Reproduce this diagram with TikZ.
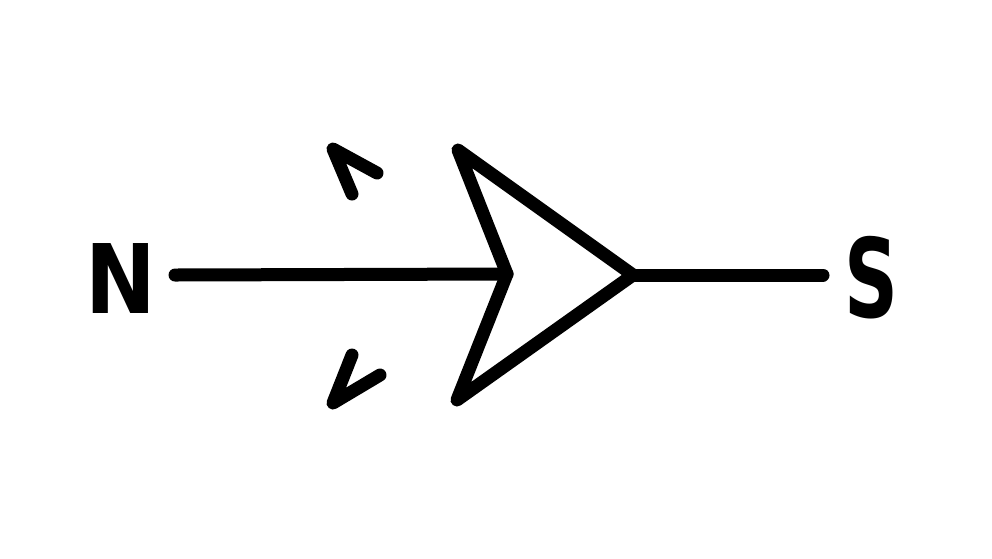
\documentclass[tikz,border=0pt]{standalone}
\usepackage{fontspec}
\newfontfamily\letterfont{DejaVu Sans}[BoldFont={DejaVu Sans Bold}]
\tikzset{
  ink/.style={line width=13pt, line cap=round, line join=round, black},
  letter/.style={inner sep=0pt, font=\letterfont\bfseries\fontsize{96}{96}\selectfont}
}
\begin{document}
\begin{tikzpicture}[x=1pt,y=-1pt]
\useasboundingbox[fill=white] (0,0) rectangle (992,558);
% letters
\node[letter] (N) at (121,278) {\scalebox{0.88}[1]{N}};
\node[letter] (S) at (871,278) {\scalebox{0.78}[1.14]{S}};
% arrow head
\coordinate (top) at (458,150);
\coordinate (notch) at (507,274);
\coordinate (tip) at (633,275);
\coordinate (bot) at (457,400);
\draw[ink] (top) -- (notch) -- (bot) -- (tip) -- cycle;
% line
\coordinate (lineL) at (175,275);
\coordinate (lineR) at (823,275);
\draw[ink] (lineL) -- (notch);
\draw[ink] (tip) -- (lineR);
% ticks
\coordinate (t1a) at (352,194);
\coordinate (t1b) at (333,149);
\coordinate (t1c) at (377,173);
\draw[ink] (t1a) -- (t1b) -- (t1c);
\coordinate (t2a) at (352,355);
\coordinate (t2b) at (333,403);
\coordinate (t2c) at (380,375);
\draw[ink] (t2a) -- (t2b) -- (t2c);
\end{tikzpicture}
\end{document}
